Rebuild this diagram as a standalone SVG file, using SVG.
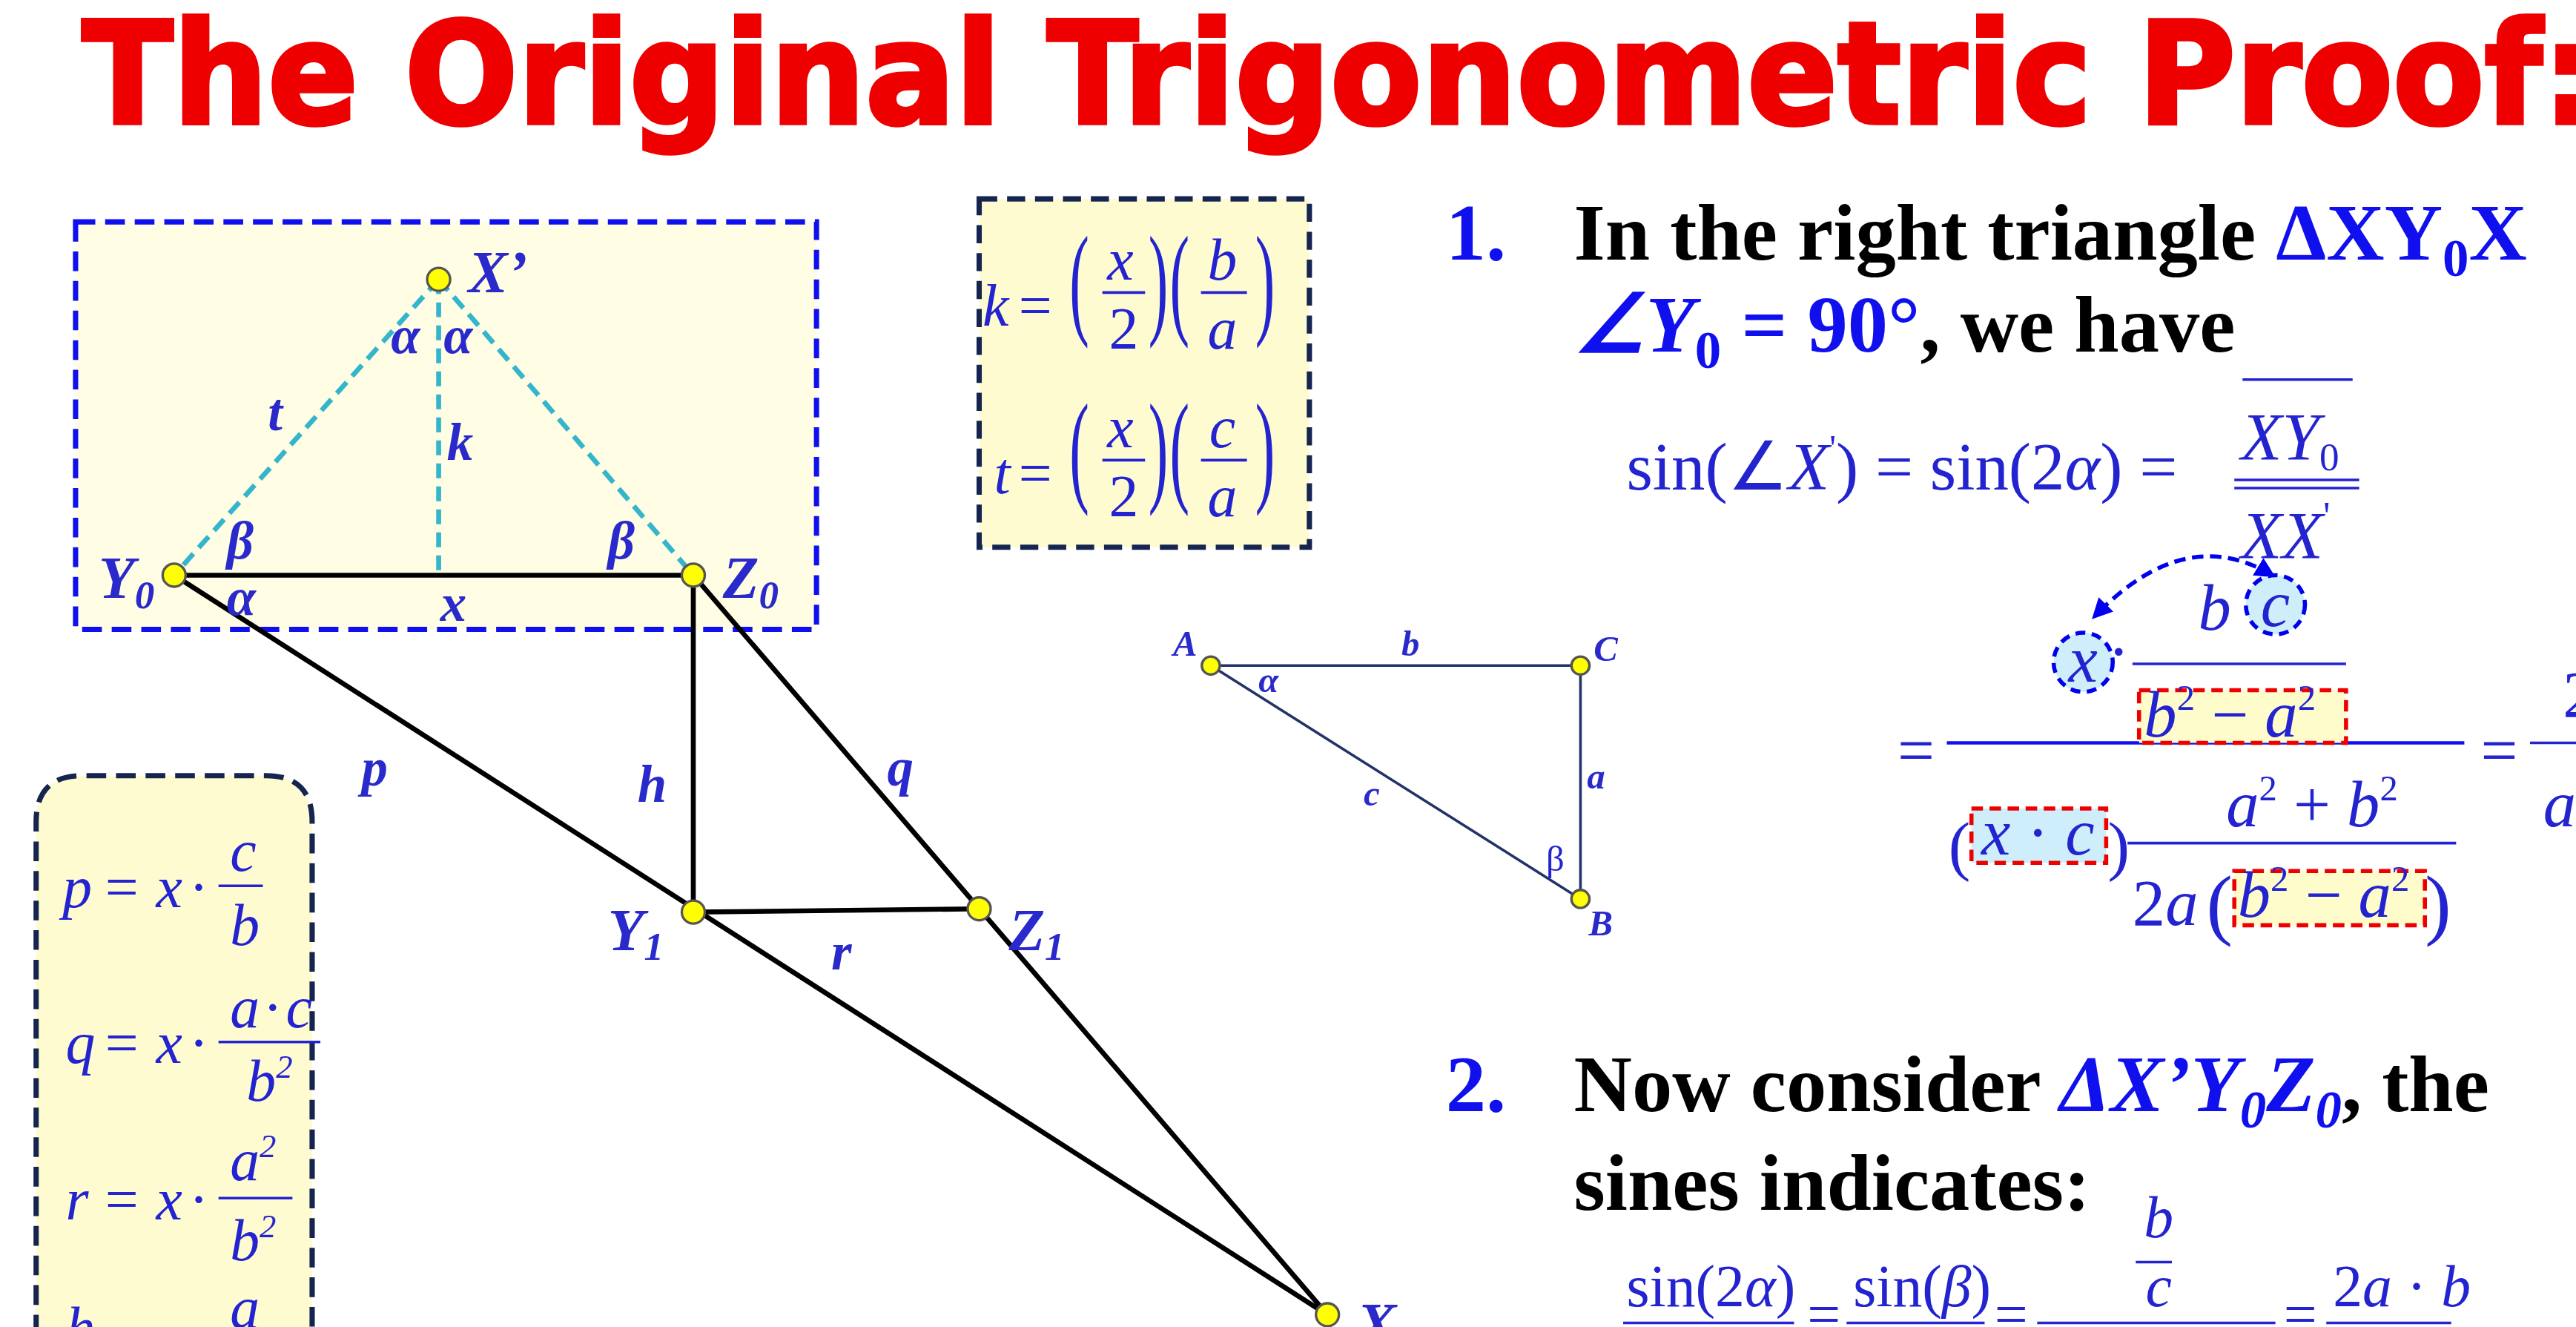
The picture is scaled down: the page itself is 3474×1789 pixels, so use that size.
<svg xmlns="http://www.w3.org/2000/svg" width="3474" height="1789" viewBox="0 0 3474 1789">
<style>
.t{font-family:"Liberation Serif",serif}
.bi{font-family:"Liberation Serif",serif;font-weight:bold;font-style:italic;fill:#2a2acc}
.m{font-family:"Liberation Serif",serif;font-style:italic;fill:#2323d0}
.mu{font-family:"Liberation Serif",serif;fill:#2323d0}
.pt{fill:#ffff00;stroke:#555;stroke-width:1.5}
.bl{stroke:#000;stroke-width:3;fill:none}
.cy{stroke:#33b5cc;stroke-width:3;stroke-dasharray:9 5;fill:none}
.bar{stroke:#2323d0;stroke-width:1.6}
.rb{fill:#fffccc;stroke:#e00;stroke-width:2.5;stroke-dasharray:7 4}
</style>
<defs>
<marker id="ah" viewBox="0 0 10 10" refX="8" refY="5" markerWidth="5" markerHeight="5" orient="auto-start-reverse"><path d="M0,0L10,5L0,10z" fill="#0000ee"/></marker>
</defs>
<rect width="3474" height="1789" fill="#fff"/>
<g transform="scale(2.2156)">
<text id="title" x="50" y="75" font-family="'DejaVu Sans',sans-serif" font-weight="900" font-size="86" fill="#ee0000" stroke="#ee0000" stroke-width="2.5" textLength="1530" lengthAdjust="spacingAndGlyphs">The Original Trigonometric Proof:</text>

<g id="box1"><rect x="46" y="135" width="451" height="248" fill="#fffde3" stroke="#1010ee" stroke-width="3.2" stroke-dasharray="12 6"/></g>

<g id="connectors">
<line class="cy" x1="267" y1="170" x2="106" y2="350"/>
<line class="cy" x1="267" y1="170" x2="422" y2="350"/>
<line class="cy" x1="267" y1="170" x2="267" y2="350"/>
<line class="bl" x1="106" y1="350" x2="422" y2="350"/>
<line class="bl" x1="106" y1="350" x2="808" y2="800"/>
<line class="bl" x1="422" y1="350" x2="808" y2="800"/>
<line class="bl" x1="422" y1="350" x2="422" y2="555"/>
<line class="bl" x1="422" y1="555" x2="596" y2="553"/>
<g stroke="#223366" stroke-width="1.6"><line x1="737" y1="405" x2="962" y2="405"/><line x1="962" y1="405" x2="962" y2="547"/><line x1="737" y1="405" x2="962" y2="547"/></g>
<path d="M1383,350 Q1330,318 1275,375" fill="none" stroke="#0000ee" stroke-width="2.5" stroke-dasharray="7 4" marker-start="url(#ah)" marker-end="url(#ah)"/>
</g>

<g id="Xp"><circle class="pt" cx="267" cy="170" r="7"/><text class="bi" x="285" y="178" font-size="36">X’</text></g>
<g id="Y0"><circle class="pt" cx="106" cy="350" r="7"/><text class="bi" x="60" y="364" font-size="36">Y<tspan font-size="24" dy="6">0</tspan></text></g>
<g id="Z0"><circle class="pt" cx="422" cy="350" r="7"/><text class="bi" x="440" y="364" font-size="36">Z<tspan font-size="24" dy="6">0</tspan></text></g>
<g id="Y1"><circle class="pt" cx="422" cy="555" r="7"/><text class="bi" x="370" y="578" font-size="36">Y<tspan font-size="24" dy="6">1</tspan></text></g>
<g id="Z1"><circle class="pt" cx="596" cy="553" r="7"/><text class="bi" x="614" y="578" font-size="36">Z<tspan font-size="24" dy="6">1</tspan></text></g>
<g id="X"><circle class="pt" cx="808" cy="800" r="7"/><text class="bi" x="826" y="818" font-size="36">X</text></g>
<g id="labels" font-size="32">
<text class="bi" x="238" y="215">α</text><text class="bi" x="270" y="215">α</text>
<text class="bi" x="163" y="262">t</text><text class="bi" x="272" y="280">k</text>
<text class="bi" x="138" y="340">β</text><text class="bi" x="370" y="340">β</text>
<text class="bi" x="138" y="374">α</text><text class="bi" x="268" y="378">x</text>
<text class="bi" x="220" y="478">p</text><text class="bi" x="388" y="488">h</text>
<text class="bi" x="540" y="478">q</text><text class="bi" x="506" y="590">r</text>
</g>

<g id="tri">
<circle class="pt" cx="737" cy="405" r="5.5"/><circle class="pt" cx="962" cy="405" r="5.5"/><circle class="pt" cx="962" cy="547" r="5.5"/>
<g font-size="22"><text class="bi" x="714" y="399">A</text><text class="bi" x="853" y="399">b</text><text class="bi" x="970" y="402">C</text>
<text class="bi" x="766" y="421">α</text><text class="bi" x="830" y="490">c</text><text class="bi" x="966" y="480">a</text>
<text class="mu" x="941" y="530">β</text><text class="bi" x="967" y="569">B</text></g>
</g>

<g id="ktbox">
<rect x="596" y="121" width="201" height="212" fill="#fffbd0" stroke="#152550" stroke-width="3.2" stroke-dasharray="11 6"/>
<g font-size="36">
<text class="m" x="598" y="198">k</text><text class="mu" x="620" y="198">=</text>
<text class="mu" x="651" y="196" transform="translate(651,196) scale(1,2.1) translate(-651,-196)">(</text>
<text class="m" x="674" y="170">x</text><line class="bar" x1="671" y1="178" x2="697" y2="178"/><text class="mu" x="675" y="212">2</text>
<text class="mu" x="699" y="196" transform="translate(699,196) scale(1,2.1) translate(-699,-196)">)</text>
<text class="mu" x="712" y="196" transform="translate(712,196) scale(1,2.1) translate(-712,-196)">(</text>
<text class="m" x="735" y="170">b</text><line class="bar" x1="731" y1="178" x2="759" y2="178"/><text class="m" x="735" y="212">a</text>
<text class="mu" x="764" y="196" transform="translate(764,196) scale(1,2.1) translate(-764,-196)">)</text>

<text class="m" x="605" y="300">t</text><text class="mu" x="620" y="300">=</text>
<text class="mu" x="651" y="298" transform="translate(651,298) scale(1,2.1) translate(-651,-298)">(</text>
<text class="m" x="674" y="272">x</text><line class="bar" x1="671" y1="280" x2="697" y2="280"/><text class="mu" x="675" y="314">2</text>
<text class="mu" x="699" y="298" transform="translate(699,298) scale(1,2.1) translate(-699,-298)">)</text>
<text class="mu" x="712" y="298" transform="translate(712,298) scale(1,2.1) translate(-712,-298)">(</text>
<text class="m" x="736" y="272">c</text><line class="bar" x1="731" y1="280" x2="759" y2="280"/><text class="m" x="735" y="314">a</text>
<text class="mu" x="764" y="298" transform="translate(764,298) scale(1,2.1) translate(-764,-298)">)</text>
</g></g>

<g id="leftbox">
<path d="M22,830 V500 Q22,472 50,472 H162 Q190,472 190,500 V830" fill="#fffbd0" stroke="#152550" stroke-width="3.2" stroke-dasharray="12 6"/>
<g font-size="36">
<text class="m" x="38" y="552">p</text><text class="mu" x="64" y="552">=</text><text class="m" x="95" y="552">x</text><text class="mu" x="115" y="552">·</text>
<text class="m" x="140" y="530">c</text><line class="bar" x1="133" y1="539" x2="160" y2="539"/><text class="m" x="140" y="575">b</text>
<text class="m" x="40" y="647">q</text><text class="mu" x="64" y="647">=</text><text class="m" x="95" y="647">x</text><text class="mu" x="115" y="647">·</text>
<text class="m" x="140" y="625">a</text><text class="mu" x="160" y="625">·</text><text class="m" x="174" y="625">c</text><line class="bar" x1="133" y1="634" x2="195" y2="634"/><text class="m" x="150" y="670">b<tspan font-size="20" dy="-14">2</tspan></text>
<text class="m" x="40" y="742">r</text><text class="mu" x="64" y="742">=</text><text class="m" x="95" y="742">x</text><text class="mu" x="115" y="742">·</text>
<text class="m" x="140" y="718">a<tspan font-size="20" dy="-14">2</tspan></text><line class="bar" x1="133" y1="729" x2="178" y2="729"/><text class="m" x="140" y="767">b<tspan font-size="20" dy="-14">2</tspan></text>
<text class="m" x="40" y="820">h</text><text class="m" x="140" y="808">a</text>
</g></g>

<g id="step1" font-size="49" font-weight="bold" class="t">
<text x="880" y="158" fill="#1010ee">1.</text>
<text x="958" y="158" fill="#000">In the right triangle <tspan fill="#1010ee">ΔXY<tspan font-size="32" dy="10">0</tspan><tspan dy="-10">X</tspan></tspan></text>
<text x="958" y="214" fill="#1010ee"><tspan font-style="italic">∠Y</tspan><tspan font-size="32" dy="10">0</tspan><tspan dy="-10"> = 90°</tspan><tspan fill="#000">, we have</tspan></text>
</g>

<g id="eq1" font-size="41">
<text class="mu" x="990" y="298">sin(∠<tspan font-style="italic">X</tspan><tspan font-size="22" dy="-18">'</tspan><tspan dy="18">) = sin(2</tspan><tspan font-style="italic">α</tspan>) =</text>
<line class="bar" x1="1365" y1="231" x2="1432" y2="231"/>
<text class="m" x="1364" y="280">XY<tspan font-size="24" dy="6" font-style="normal">0</tspan></text>
<line class="bar" x1="1360" y1="292" x2="1436" y2="292"/><line class="bar" x1="1360" y1="297" x2="1436" y2="297"/>
<text class="m" x="1364" y="340">XX<tspan font-size="24" dy="-18" font-style="normal">'</tspan></text>
</g>

<g id="eq2" font-size="40">
<text class="mu" x="1155" y="470">=</text>
<line x1="1185" y1="452" x2="1500" y2="452" stroke="#1010ee" stroke-width="2"/>
<circle cx="1268" cy="403" r="18" fill="#cdeefa" stroke="#0000ee" stroke-width="2.5" stroke-dasharray="6 4"/>
<text class="m" x="1259" y="415">x</text><text class="mu" x="1283" y="410">·</text>
<circle cx="1385" cy="368" r="18" fill="#cdeefa" stroke="#0000ee" stroke-width="2.5" stroke-dasharray="6 4"/>
<text class="m" x="1338" y="383">b</text><text class="m" x="1376" y="381">c</text>
<line class="bar" x1="1298" y1="404" x2="1428" y2="404"/>
<rect class="rb" x="1302" y="420" width="126" height="32"/>
<text class="m" x="1305" y="448">b<tspan font-size="22" dy="-16" font-style="normal">2</tspan><tspan dy="16" font-style="normal"> − </tspan>a<tspan font-size="22" dy="-16" font-style="normal">2</tspan></text>
<text class="m" x="1355" y="503">a<tspan font-size="22" dy="-16" font-style="normal">2</tspan><tspan dy="16" font-style="normal"> + </tspan>b<tspan font-size="22" dy="-16" font-style="normal">2</tspan></text>
<text class="mu" x="1186" y="528">(</text>
<rect x="1200" y="492" width="82" height="33" fill="#cdeefa" stroke="#e00" stroke-width="2.5" stroke-dasharray="7 4"/>
<text class="m" x="1206" y="520">x<tspan font-style="normal"> · </tspan>c</text>
<text class="mu" x="1283" y="528">)</text>
<line class="bar" x1="1295" y1="513" x2="1495" y2="513"/>
<text class="m" x="1298" y="563"><tspan font-style="normal">2</tspan>a</text>
<text class="mu" x="1343" y="566" font-size="48">(</text>
<rect class="rb" x="1360" y="530" width="116" height="33"/>
<text class="m" x="1362" y="558">b<tspan font-size="22" dy="-16" font-style="normal">2</tspan><tspan dy="16" font-style="normal"> − </tspan>a<tspan font-size="22" dy="-16" font-style="normal">2</tspan></text>
<text class="mu" x="1476" y="566" font-size="48">)</text>
<text class="mu" x="1510" y="470">=</text>
<line class="bar" x1="1540" y1="452" x2="1580" y2="452"/>
<text class="mu" x="1560" y="436">2</text>
<text class="m" x="1548" y="503">a</text>
</g>

<g id="step2" font-size="49" font-weight="bold" class="t">
<text x="880" y="676" fill="#1010ee">2.</text>
<text x="958" y="676" fill="#000">Now consider <tspan fill="#1010ee" font-style="italic">ΔX’Y<tspan font-size="32" dy="10">0</tspan><tspan dy="-10">Z</tspan><tspan font-size="32" dy="10">0</tspan></tspan><tspan dy="-10">, the</tspan></text>
<text x="958" y="736" fill="#000">sines indicates:</text>
</g>

<g id="eq3" font-size="36">
<text class="mu" x="990" y="795">sin(2<tspan font-style="italic">α</tspan>)</text>
<line class="bar" x1="988" y1="805" x2="1092" y2="805"/>
<text class="mu" x="1100" y="812">=</text>
<text class="mu" x="1128" y="795">sin(<tspan font-style="italic">β</tspan>)</text>
<line class="bar" x1="1124" y1="805" x2="1208" y2="805"/>
<text class="mu" x="1214" y="812">=</text>
<text class="m" x="1305" y="753">b</text><line class="bar" x1="1300" y1="768" x2="1322" y2="768"/><text class="m" x="1306" y="795">c</text>
<line class="bar" x1="1240" y1="805" x2="1385" y2="805"/>
<text class="mu" x="1390" y="812">=</text>
<text class="m" x="1420" y="795"><tspan font-style="normal">2</tspan>a<tspan font-style="normal"> · </tspan>b</text>
<line class="bar" x1="1416" y1="805" x2="1492" y2="805"/>
</g>
</g>
</svg>
